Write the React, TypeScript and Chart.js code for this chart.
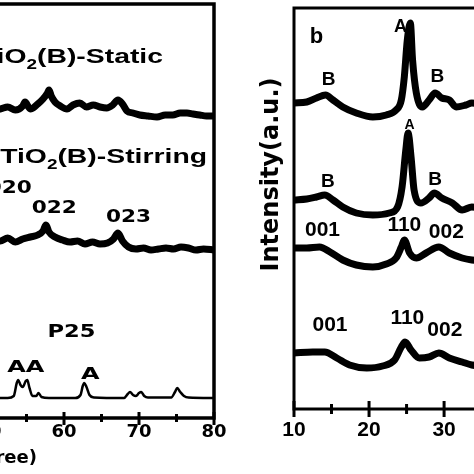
import { useEffect, useRef } from "react";
import { Chart, registerables } from "chart.js";

Chart.register(...registerables);

// ---- Panel (a): XRD patterns, 2θ in degrees, intensity in a.u. (traces stacked) ----
const aStaticDeg = [50, 51.5, 52.5, 53.5, 54.5, 54.8, 55.5, 56.5, 57.2, 57.8, 58.0, 58.3, 58.8, 59.5, 60.4, 61.2, 62.1, 63.0, 63.9, 64.8, 65.7, 66.5, 67.2, 67.8, 68.4, 69.2, 70.1, 71.2, 72.4, 73.5, 74.5, 75.5, 76.4, 77.2, 78.1, 79.0, 80.0];
const aStaticInt = [308, 309, 311, 308, 312, 316, 309, 314, 319, 325, 328, 322, 316, 312, 309, 313, 315, 311, 313, 311, 310, 313, 318, 314, 307, 305, 303, 302, 301, 303, 303, 305, 305, 304, 303, 302, 302];

const aStirDeg = [50, 51.5, 52.5, 53.5, 54.5, 55.5, 56.5, 57.2, 57.6, 58.0, 58.8, 59.8, 60.8, 61.8, 62.8, 63.8, 64.8, 65.8, 66.6, 67.2, 67.8, 68.6, 69.6, 70.6, 71.6, 72.6, 73.6, 74.6, 75.6, 76.6, 77.6, 78.6, 80];
const aStirInt = [178, 177, 180, 176, 179, 181, 183, 187, 193, 186, 181, 178, 176, 177, 174, 176, 174, 175, 179, 185, 177, 171, 169, 170, 168, 169, 170, 169, 171, 170, 168, 169, 168];

const aP25Deg = [50, 52.5, 53.3, 53.7, 53.9, 54.2, 54.5, 54.9, 55.1, 55.4, 55.8, 56.3, 56.6, 57.0, 58.0, 61.5, 62.2, 62.5, 62.7, 63.0, 63.4, 64.0, 68.0, 68.5, 68.8, 69.2, 69.6, 70.0, 70.3, 70.7, 71.2, 74.3, 74.8, 75.1, 75.5, 76.0, 76.6, 80];
const aP25Int = [20, 20, 22, 35, 38, 33, 31, 37, 38, 30, 22, 22, 25, 21, 20, 20, 23, 32, 35, 31, 23, 20.5, 20, 24, 26, 23, 22, 25, 26, 22, 20.5, 20.5, 26, 30, 26, 22, 20.5, 20];

// sample names (right end of the text, in data coordinates)
const aSampleName = ["(B)-Static", "(B)-Stirring"];
const aSampleDeg = [73.2, 79.07];
const aSampleInt = [361, 261];

// TiO2(B) reflections
const aIndexText = ["020", "022", "023"];
const aIndexDeg = [52.7, 58.7, 68.6];
const aIndexInt = [230, 210, 201];

// anatase marks on P25
const aPhaseText = ["AA", "A"];
const aPhaseDeg = [54.9, 63.5];
const aPhaseInt = [50, 43];

// ---- Panel (b) ----
const b1Deg = [10, 11.7, 13.0, 14.2, 15.2, 16.5, 18.3, 20.5, 22.3, 23.6, 24.3, 24.7, 25.1, 25.5, 25.8, 26.3, 27.1, 28.0, 28.8, 29.7, 30.7, 31.6, 32.9, 33.7, 35];
const b1Int = [306, 307, 311, 314, 309, 302, 296, 292, 294, 299, 309, 332, 369, 386, 349, 316, 302, 309, 316, 311, 309, 302, 304, 306, 305];

const b2Deg = [10, 11.7, 13.0, 14.1, 15.2, 16.5, 18.3, 20.5, 22.7, 23.8, 24.4, 24.9, 25.2, 25.6, 26.0, 26.9, 28.0, 28.7, 29.7, 31.1, 32.4, 33.7, 35];
const b2Int = [209, 210, 212, 214, 209, 202, 196, 194, 196, 202, 222, 259, 276, 252, 219, 206, 211, 216, 211, 206, 199, 202, 201];

const b3Deg = [10, 11.7, 13.4, 14.8, 16.5, 18.3, 20.5, 22.3, 23.6, 24.3, 24.7, 25.4, 26.3, 27.6, 29.3, 30.7, 32.4, 33.7, 35];
const b3Int = [161, 161, 162, 157, 149, 144, 142, 145, 151, 162, 169, 156, 151, 156, 162, 156, 151, 149, 148];

const b4Deg = [10, 12.5, 14.1, 15.7, 17.4, 19.7, 21.8, 23.4, 24.3, 24.8, 25.6, 26.7, 28.0, 29.3, 30.7, 32.4, 33.7, 35];
const b4Int = [56, 57, 57, 51, 44, 41, 43, 49, 62, 67, 59, 51, 52, 56, 51, 47, 44, 43];

const bPhaseText = ["B", "A", "B", "B", "A", "B"];
const bPhaseDeg = [14.6, 24.2, 29.1, 14.5, 25.4, 28.8];
const bPhaseInt = [329, 382, 332, 227, 284, 229];

const bMillerText = ["001", "110", "002", "001", "110", "002"];
const bMillerDeg = [13.8, 24.7, 30.3, 14.8, 25.1, 30.1];
const bMillerInt = [179, 184, 177, 84, 91, 79];

const ticksMinor = [10, 15, 20, 25, 30, 35, 40, 45, 50, 55, 60, 65, 70, 75, 80];

const pts = (xs: number[], ys: number[]) => xs.map((x, i) => ({ x, y: ys[i] }));

const DV = "DejaVu Sans";
const LS = "Liberation Sans";

function txt(ctx: CanvasRenderingContext2D, s: string, x: number, y: number, size: number, family: string, sx = 1) {
  ctx.save();
  ctx.font = `bold ${size}px "${family}"`;
  ctx.textBaseline = "middle";
  ctx.textAlign = "center";
  ctx.translate(x, y);
  ctx.scale(sx, 1);
  ctx.fillText(s, 0, 0);
  ctx.restore();
}

// "TiO" + subscript "2" + rest, right-aligned at x
function chem(ctx: CanvasRenderingContext2D, post: string, xRight: number, y: number, size: number, sx: number) {
  ctx.save();
  ctx.translate(xRight, y);
  ctx.scale(sx, 1);
  ctx.textBaseline = "middle";
  ctx.textAlign = "left";
  const big = `bold ${size}px "${LS}"`;
  const small = `bold ${Math.round(size * 0.65)}px "${LS}"`;
  ctx.font = big;
  const w1 = ctx.measureText("TiO").width;
  const w3 = ctx.measureText(post).width;
  ctx.font = small;
  const w2 = ctx.measureText("2").width;
  let cx = -(w1 + w2 + w3);
  ctx.font = big;
  ctx.fillText("TiO", cx, 0);
  cx += w1;
  ctx.font = small;
  ctx.fillText("2", cx, size * 0.38);
  cx += w2;
  ctx.font = big;
  ctx.fillText(post, cx, 0);
  ctx.restore();
}

function tickMarks(chart: any, majUp: number, majDown: number, minUp: number, minDown: number) {
  const { ctx, chartArea: a, scales } = chart;
  ctx.save();
  ctx.strokeStyle = "#000";
  ctx.lineWidth = 3;
  ticksMinor.forEach((v) => {
    const px = scales.x.getPixelForValue(v);
    const major = v % 10 === 0;
    ctx.beginPath();
    ctx.moveTo(px, a.bottom - (major ? majUp : minUp));
    ctx.lineTo(px, a.bottom + (major ? majDown : minDown));
    ctx.stroke();
  });
  ctx.restore();
}

const panelA = {
  id: "panelA",
  afterDatasetsDraw(chart: any) {
    const { ctx, chartArea: a, scales } = chart;
    const X = (v: number) => scales.x.getPixelForValue(v);
    const Y = (v: number) => scales.y.getPixelForValue(v);
    ctx.save();
    ctx.strokeStyle = "#000";
    ctx.lineWidth = 3.5;
    ctx.strokeRect(a.left, a.top, a.right - a.left, a.bottom - a.top);
    ctx.restore();
    tickMarks(chart, 6, 7, 4, 4);
    ctx.save();
    ctx.fillStyle = "#000";
    aSampleName.forEach((s, i) => chem(ctx, s, X(aSampleDeg[i]), Y(aSampleInt[i]), 21, 1.35));
    aIndexText.forEach((s, i) => txt(ctx, s, X(aIndexDeg[i]), Y(aIndexInt[i]), 18, DV, 1.2));
    txt(ctx, "P25", X(61.0), Y(85), 17, DV, 1.33);
    aPhaseText.forEach((s, i) => txt(ctx, s, X(aPhaseDeg[i]), Y(aPhaseInt[i]), 16, DV, 1.5));
    ctx.restore();
  },
};

const panelB = {
  id: "panelB",
  afterDatasetsDraw(chart: any) {
    const { ctx, chartArea: a, scales } = chart;
    const X = (v: number) => scales.x.getPixelForValue(v);
    const Y = (v: number) => scales.y.getPixelForValue(v);
    ctx.save();
    ctx.strokeStyle = "#000";
    ctx.lineWidth = 3;
    ctx.strokeRect(a.left, a.top, a.right - a.left, a.bottom - a.top);
    ctx.restore();
    tickMarks(chart, 8, 8, 5, 5);
    ctx.save();
    ctx.fillStyle = "#000";
    txt(ctx, "b", X(13.0), Y(372), 22, LS);
    const phaseSize = [19, 18, 19, 19, 14, 19];
    bPhaseText.forEach((s, i) => txt(ctx, s, X(bPhaseDeg[i]), Y(bPhaseInt[i]), phaseSize[i], LS));
    bMillerText.forEach((s, i) => txt(ctx, s, X(bMillerDeg[i]), Y(bMillerInt[i]), 21, LS));
    // y-axis title
    ctx.save();
    ctx.translate(a.left - 16, (a.top + a.bottom) / 2 - 34);
    ctx.rotate(-Math.PI / 2);
    ctx.font = `bold 24px "${DV}"`;
    ctx.textAlign = "center";
    ctx.textBaseline = "alphabetic";
    ctx.fillText("Intensity(a.u.)", 0, 0);
    ctx.restore();
    ctx.restore();
  },
};

const thick = { borderColor: "#000", borderWidth: 7, pointRadius: 0, cubicInterpolationMode: "monotone" as const, borderJoinStyle: "round" as const, borderCapStyle: "round" as const };

function makeA(canvas: HTMLCanvasElement) {
  return new Chart(canvas, {
    type: "line",
    data: {
      datasets: [
        { label: "TiO2(B)-Static", data: pts(aStaticDeg, aStaticInt), ...thick },
        { label: "TiO2(B)-Stirring", data: pts(aStirDeg, aStirInt), ...thick },
        { label: "P25", data: pts(aP25Deg, aP25Int), ...thick, borderWidth: 2.5 },
      ],
    },
    options: {
      responsive: false,
      animation: false,
      devicePixelRatio: 1,
      layout: { padding: { left: 29, right: 26, top: 4, bottom: 0 } },
      plugins: { legend: { display: false }, tooltip: { enabled: false } },
      scales: {
        x: {
          type: "linear",
          min: 10,
          max: 80,
          grid: { display: false, drawTicks: false },
          border: { display: false },
          ticks: { stepSize: 10, autoSkip: false, maxRotation: 0, padding: 4, color: "#000", font: { family: DV, weight: "bold", size: 18 } },
          title: { display: true, text: "2 Theta (degree)", color: "#000", font: { family: DV, weight: "bold", size: 18 }, padding: { top: 0, bottom: 5 } },
          afterFit: (s: any) => { s.height = 56; },
        },
        y: { display: false, min: 0, max: 414 },
      },
    },
    plugins: [panelA],
  } as any);
}

function makeB(canvas: HTMLCanvasElement) {
  return new Chart(canvas, {
    type: "line",
    data: {
      datasets: [
        { label: "1", data: pts(b1Deg, b1Int), ...thick },
        { label: "2", data: pts(b2Deg, b2Int), ...thick },
        { label: "3", data: pts(b3Deg, b3Int), ...thick },
        { label: "4", data: pts(b4Deg, b4Int), ...thick },
      ],
    },
    options: {
      responsive: false,
      animation: false,
      devicePixelRatio: 1,
      layout: { padding: { left: 54, right: 17.5, top: 8, bottom: 0 } },
      plugins: { legend: { display: false }, tooltip: { enabled: false } },
      scales: {
        x: {
          type: "linear",
          min: 10,
          max: 80,
          grid: { display: false, drawTicks: false },
          border: { display: false },
          ticks: { stepSize: 10, autoSkip: false, maxRotation: 0, padding: 9, color: "#000", font: { family: LS, weight: "bold", size: 21 } },
          afterFit: (s: any) => { s.height = 65; },
        },
        y: { display: false, min: 0, max: 401 },
      },
    },
    plugins: [panelB],
  } as any);
}

export default function App() {
  const leftRef = useRef<HTMLCanvasElement>(null);
  const rightRef = useRef<HTMLCanvasElement>(null);
  useEffect(() => {
    const a = makeA(leftRef.current!);
    const b = makeB(rightRef.current!);
    return () => {
      a.destroy();
      b.destroy();
    };
  }, []);
  return (
    <div style={{ position: "fixed", left: 0, top: 0, width: 474, height: 474, overflow: "hidden", background: "#fff" }}>
      <canvas ref={leftRef} width={580} height={474} style={{ position: "absolute", left: -340, top: 0, width: 580, height: 474 }} />
      <canvas ref={rightRef} width={600} height={474} style={{ position: "absolute", left: 240, top: 0, width: 600, height: 474 }} />
    </div>
  );
}
